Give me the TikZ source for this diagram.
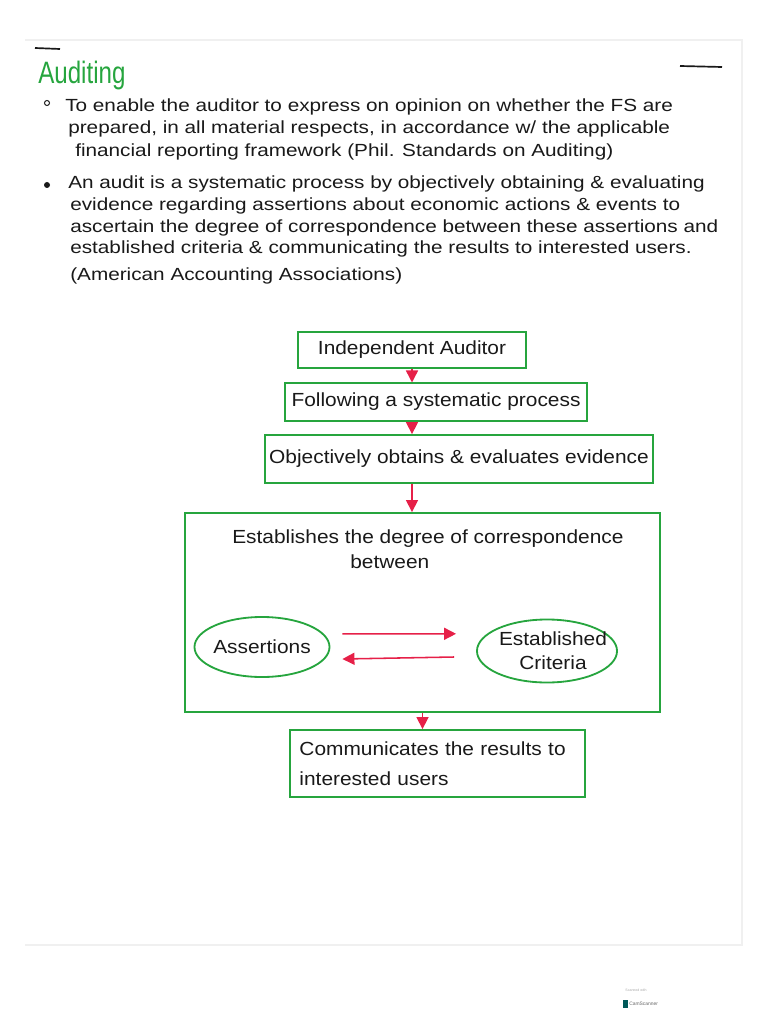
\documentclass[tikz,border=0pt]{standalone}
\usepackage{fontspec}
\setmainfont{Liberation Sans}
\newfontfamily\notefont[FakeStretch=1.18]{Liberation Sans}
\newfontfamily\chartfont[FakeStretch=1.1]{Liberation Sans}
\newfontfamily\titlefont[FakeStretch=0.78]{Liberation Sans}
\usetikzlibrary{arrows.meta,shapes.geometric}
\definecolor{markgreen}{RGB}{38,165,62}
\definecolor{penred}{RGB}{230,32,72}
\definecolor{penblack}{RGB}{25,25,25}

\begin{document}
\begin{tikzpicture}[x=0.025cm, y=-0.025cm,
    box/.style={draw=markgreen, line width=1.3pt, inner sep=1pt, text=penblack,
        font=\chartfont\fontsize{13.5}{17}\selectfont},
    oval/.style={ellipse, draw=markgreen, line width=1.3pt, inner sep=0pt},
    label text/.style={inner sep=0pt, text=penblack, align=center,
        font=\chartfont\fontsize{13.5}{17}\selectfont},
    flow/.style={penred, line width=1.1pt, -{Triangle[length=0.3cm,width=0.3cm]}},
    note/.style={anchor=base west, inner sep=0pt, text=penblack,
        font=\notefont\fontsize{12.5}{15}\selectfont}]
    \useasboundingbox (0,0) rectangle (768,1024);

    % Paper edges
    \draw[gray!12, line width=1pt] (25,40) -- (742,40) -- (742,945) -- (25,945);
    \draw[penblack, line width=1.2pt] (35,48) -- (60,49);
    \draw[penblack, line width=1.2pt] (680,66) -- (722,67);

    % Title
    \node[anchor=base west, inner sep=0pt, text=markgreen, font=\titlefont\fontsize{22}{26}\selectfont] (title) at (38,84) {Auditing};

    % First definition
    \draw[penblack, line width=0.7pt] (47,103) circle (2.5);
    \node[note] (l1) at (65,112) {To enable the auditor to express on opinion on whether the FS are};
    \node[note] (l2) at (68,134) {prepared, in all material respects, in accordance w/ the applicable};
    \node[note] (l3) at (75,157) {financial reporting framework (Phil. Standards on Auditing)};

    % Second definition
    \fill[penblack] (47,185) circle (3);
    \node[note] (l4) at (68,189) {An audit is a systematic process by objectively obtaining \& evaluating};
    \node[note] (l5) at (70,211) {evidence regarding assertions about economic actions \& events to};
    \node[note] (l6) at (70,233) {ascertain the degree of correspondence between these assertions and};
    \node[note] (l7) at (70,254) {established criteria \& communicating the results to interested users.};
    \node[note] (l8) at (70,280) {(American Accounting Associations)};

    % Flow chart
    \node[box, minimum width=5.7cm, minimum height=0.9cm] (indep) at (412,350) {Independent Auditor};
    \node[box, minimum width=7.55cm, minimum height=0.93cm] (follow) at (436,402) {Following a systematic process};
    \node[box, minimum width=9.7cm, minimum height=1.2cm] (obtain) at (459,459) {Objectively obtains \& evaluates evidence};
    \node[box, minimum width=11.875cm, minimum height=4.975cm] (corr) at (422.5,612.5) {};
    \node[label text, anchor=base west] (corrtxt) at (232,543) {Establishes the degree of correspondence};
    \node[label text, anchor=base west] (between) at (350,568) {between};
    \node[oval, minimum width=3.375cm, minimum height=1.5cm] (assert) at (262,647) {};
    \node[label text] (asserttxt) at (assert) {Assertions};
    \node[oval, minimum width=3.5cm, minimum height=1.575cm] (crit) at (547,651) {};
    \node[label text] (crittxt) at ([xshift=0.15cm]crit) {Established\\Criteria};
    \node[box, minimum width=7.375cm, minimum height=1.675cm, align=left, text width=6.9cm] (comm) at (437.5,763.5)
        {Communicates the results to\\[4pt]interested users};

    \draw[flow] (indep.south) -- (indep.south |- follow.north);
    \draw[flow] (indep.south |- follow.south) -- (indep.south |- obtain.north);
    \draw[flow] (indep.south |- obtain.south) -- (indep.south |- corr.north);
    \draw[flow] ([xshift=0.3cm,yshift=0.33cm]assert.east) -- ([xshift=-0.5cm,yshift=0.43cm]crit.west);
    \draw[flow] ([xshift=-0.55cm,yshift=-0.15cm]crit.west) -- ([xshift=0.3cm,yshift=-0.3cm]assert.east);
    \draw[flow] (corr.south) -- (corr.south |- comm.north);

    % Scanner mark
    \node[inner sep=0pt, text=gray!70, font=\fontsize{2.5}{3}\selectfont] (scan1) at (636,990) {Scanned with};
    \fill[teal!70!black] (623,1000) rectangle (628,1008);
    \node[anchor=west, inner sep=0pt, text=gray!80!black, font=\fontsize{3.5}{4}\selectfont] (scan2) at (629,1004) {CamScanner};
\end{tikzpicture}
\end{document}
